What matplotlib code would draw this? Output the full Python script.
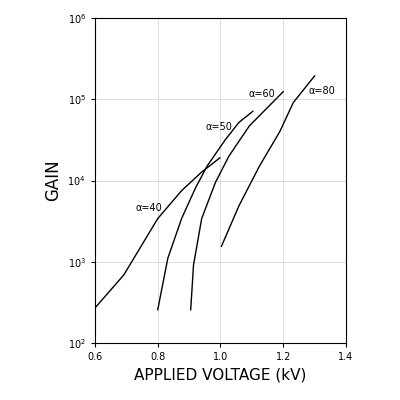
import matplotlib
matplotlib.use("Agg")
import matplotlib.pyplot as plt
import numpy as np

# curves (voltage kV, gain)
v40 = [0.6, 0.692, 0.8, 0.876, 0.94, 0.998]
g40 = [270, 690, 3400, 7500, 12700, 19000]
v50 = [0.8, 0.832, 0.876, 0.919, 0.957, 1.016, 1.059, 1.103]
g50 = [257, 1100, 3400, 7900, 15000, 32000, 52000, 71000]
v60 = [0.905, 0.914, 0.94, 0.984, 1.027, 1.092, 1.2]
g60 = [257, 910, 3400, 9500, 20000, 47000, 124000]
v80 = [1.003, 1.059, 1.124, 1.189, 1.232, 1.3]
g80 = [1550, 4900, 15000, 40000, 91000, 194000]

labels = ["α=40", "α=50", "α=60", "α=80"]
label_pos = [(0.73, 4600), (0.951, 45000), (1.09, 115000), (1.28, 126000)]

fig = plt.figure(figsize=(4, 4), dpi=100)
ax = fig.add_axes([0.2375, 0.1425, 0.6275, 0.8125])
for v, g in [(v40, g40), (v50, g50), (v60, g60), (v80, g80)]:
    ax.plot(v, g, color="black", lw=1)
for t, (x, y) in zip(labels, label_pos):
    ax.text(x, y, t, fontsize=7, va="center")

ax.set_yscale("log")
ax.set_xlim(0.6, 1.4)
ax.set_ylim(1e2, 1e6)
ax.set_xticks(np.arange(0.6, 1.41, 0.2))
ax.set_xticklabels(["0.6", "0.8", "1.0", "1.2", "1.4"])
ax.set_yticks([1e2, 1e3, 1e4, 1e5, 1e6])
ax.minorticks_off()
ax.tick_params(labelsize=7, length=3)
ax.grid(True, color="#dddddd", lw=0.7)
ax.set_axisbelow(True)
ax.set_xlabel("APPLIED VOLTAGE (kV)", fontsize=11)
ax.set_ylabel("GAIN", fontsize=12)
fig.savefig("out.png")
